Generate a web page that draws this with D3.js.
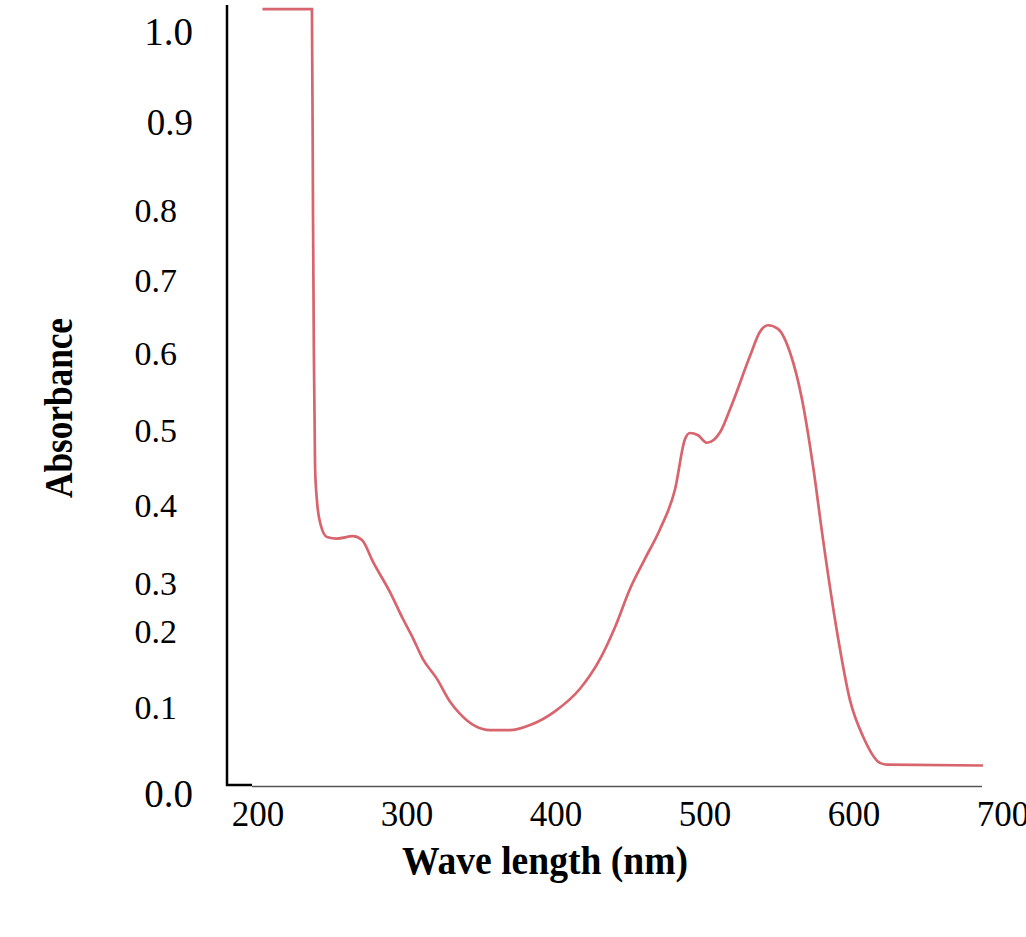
<!DOCTYPE html>
<html>
<head>
<meta charset="utf-8">
<script src="https://cdn.jsdelivr.net/npm/d3@7/dist/d3.min.js"></script>
<style>
  body { margin: 0; background: #fff; }
  svg { display: block; }
  text { font-family: "Liberation Serif", "Times New Roman", serif; fill: #000; }
</style>
</head>
<body>
<div id="chart"></div>
<script>
// spectrum: wavelength (nm) and absorbance
var wavelength = [203, 236.2, 236.9, 237.5, 238.3, 239.6, 242.0, 246.3, 253.0, 263.8, 269.8, 277.2, 288.6, 297.3,
    303.4, 310.7, 320.1, 328.9, 335.6, 345.6, 355.7, 369.1, 382.6, 399.3, 416.1, 429.5, 439.6, 449.7,
    459.7, 469.8, 479.9, 486.6, 489.9, 495.3, 501.3, 510.1, 516.8, 530.2, 536.9, 542.3, 549.0, 557.0,
    565.1, 572.5, 579.2, 588.6, 597.3, 606.0, 617.4, 622.1, 686.6];
var absorbance = [1.024, 1.024, 0.80, 0.60, 0.45, 0.405, 0.375, 0.359, 0.357, 0.360, 0.355, 0.327, 0.281, 0.225,
    0.193, 0.163, 0.137, 0.107, 0.092, 0.078, 0.073, 0.073, 0.079, 0.095, 0.124, 0.163, 0.208, 0.288,
    0.331, 0.369, 0.421, 0.488, 0.496, 0.493, 0.483, 0.497, 0.527, 0.596, 0.629, 0.638, 0.633, 0.601,
    0.540, 0.452, 0.356, 0.199, 0.109, 0.066, 0.035, 0.033, 0.032];

var xTicks = [200, 300, 400, 500, 600, 700];
var yTicks = [0, 0.1, 0.2, 0.3, 0.4, 0.5, 0.6, 0.7, 0.8, 0.9, 1.0];
var yTickLabels = ["0.0", "0.1", "0.2", "0.3", "0.4", "0.5", "0.6", "0.7", "0.8", "0.9", "1.0"];

var width = 1026, height = 937;

var svg = d3.select("#chart").append("svg")
    .attr("width", width)
    .attr("height", height);

var x = d3.scaleLinear().domain([200, 700]).range([258, 1003]);
// the printed tick labels are unevenly spaced, so the y scale is piecewise
var y = d3.scaleLinear()
    .domain(yTicks)
    .range([793, 707, 631, 583, 505, 430, 353, 280, 210, 122, 31]);

// axes
svg.append("line")
    .attr("x1", 227).attr("x2", 227).attr("y1", 5).attr("y2", 786)
    .attr("stroke", "#000").attr("stroke-width", 2.5);
svg.append("line")
    .attr("x1", 226).attr("x2", 252).attr("y1", 785).attr("y2", 785)
    .attr("stroke", "#000").attr("stroke-width", 2.5);
svg.append("line")
    .attr("x1", 252).attr("x2", 982).attr("y1", 786.5).attr("y2", 786.5)
    .attr("stroke", "#555").attr("stroke-width", 1.5);

// y tick labels, the outer ones are printed larger
svg.selectAll(".ylab")
    .data(yTicks)
    .enter().append("text")
    .attr("class", "ylab")
    .attr("x", function(d) { return (d == 0 || d >= 0.9) ? 193 : 177; })
    .attr("y", function(d) { return y(d); })
    .attr("dy", "0.35em")
    .attr("text-anchor", "end")
    .style("font-size", function(d) { return d == 0 || d == 1 ? "39px" : (d == 0.9 ? "37px" : "34px"); })
    .text(function(d, i) { return yTickLabels[i]; });

// x tick labels
svg.selectAll(".xlab")
    .data(xTicks)
    .enter().append("text")
    .attr("class", "xlab")
    .attr("x", function(d) { return x(d); })
    .attr("y", 826)
    .attr("text-anchor", "middle")
    .style("font-size", "35px")
    .text(function(d) { return d; });

// titles (the scan is a bit condensed horizontally)
svg.append("text")
    .attr("transform", "translate(72,408) rotate(-90)")
    .attr("text-anchor", "middle")
    .attr("textLength", 180)
    .attr("lengthAdjust", "spacingAndGlyphs")
    .style("font-size", "40px")
    .style("font-weight", "bold")
    .text("Absorbance");

svg.append("text")
    .attr("x", 545)
    .attr("y", 874)
    .attr("text-anchor", "middle")
    .attr("textLength", 286)
    .attr("lengthAdjust", "spacingAndGlyphs")
    .style("font-size", "41px")
    .style("font-weight", "bold")
    .text("Wave length (nm)");

// spectrum
var line = d3.line()
    .x(function(d) { return x(d[0]); })
    .y(function(d) { return y(d[1]); })
    .curve(d3.curveMonotoneX);

svg.append("path")
    .datum(d3.zip(wavelength, absorbance))
    .attr("d", line)
    .attr("fill", "none")
    .attr("stroke", "#d8646d")
    .attr("stroke-width", 2.7);
</script>
</body>
</html>
